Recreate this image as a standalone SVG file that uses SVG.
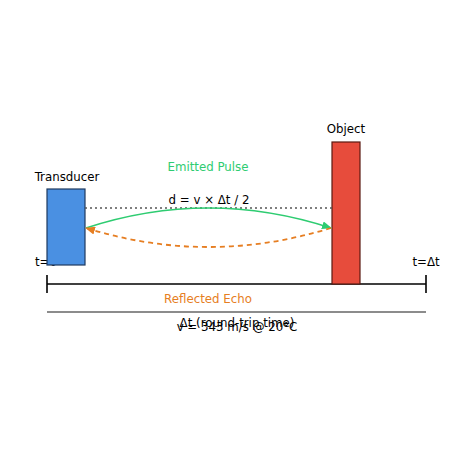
<svg xmlns="http://www.w3.org/2000/svg" width="474" height="474" viewBox="0 0 474 474">
<style>
text{font-family:"DejaVu Sans",sans-serif;font-size:11.8px;fill:#000;text-anchor:middle}
.blk{stroke:#000;stroke-width:1.6;fill:none}
</style>
<defs>
<marker id="ag" markerWidth="10" markerHeight="8" refX="9" refY="4" orient="auto" markerUnits="userSpaceOnUse"><path d="M0,0 L10,4 L0,8 Z" fill="#2ecc71"/></marker>
<marker id="ao" markerWidth="10" markerHeight="8" refX="9" refY="4" orient="auto" markerUnits="userSpaceOnUse"><path d="M0,0 L10,4 L0,8 Z" fill="#e67e22"/></marker>
</defs>
<rect width="474" height="474" fill="#fff"/>
<text x="46" y="266">t=0</text>
<g id="timeline">
<line class="blk" x1="47" y1="284" x2="426" y2="284"/>
<line class="blk" x1="47" y1="275" x2="47" y2="293"/>
<line class="blk" x1="426" y1="275" x2="426" y2="293"/>
<text x="426" y="266">t=Δt</text>
</g>
<g id="transducer">
<rect x="47" y="189" width="38" height="76" fill="#4a90e2" stroke="#1f3a5f" stroke-width="1.2"/>
<text x="67" y="181">Transducer</text>
</g>
<g id="object">
<rect x="332" y="142" width="28" height="142" fill="#e74c3c" stroke="#5a1a12" stroke-width="1.2"/>
<text x="346" y="133">Object</text>
</g>
<g id="connectors">
<line x1="85" y1="208" x2="332" y2="208" stroke="#555" stroke-width="1.3" stroke-dasharray="2,3"/>
<path d="M86,228 Q208,188 331,228" fill="none" stroke="#2ecc71" stroke-width="1.6" marker-end="url(#ag)"/>
<path d="M331,228 Q208,266 86,228" fill="none" stroke="#e67e22" stroke-width="1.8" stroke-dasharray="5,4" marker-end="url(#ao)"/>
<line x1="47" y1="312" x2="426" y2="312" stroke="#666" stroke-width="1.3"/>
</g>
<text x="208" y="171" style="fill:#2ecc71">Emitted Pulse</text>
<text x="209" y="204">d = v × Δt / 2</text>
<text x="208" y="303" style="fill:#e67e22">Reflected Echo</text>
<text x="237" y="327">Δt (round-trip time)</text>
<text x="237" y="331">v = 343 m/s @ 20°C</text>
</svg>
